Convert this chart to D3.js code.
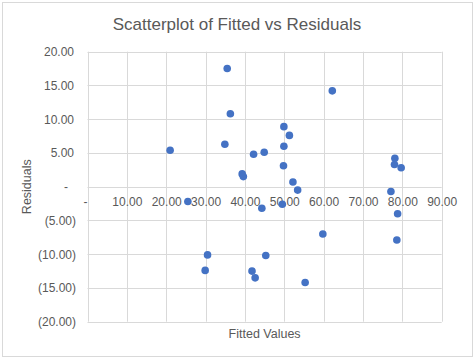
<!DOCTYPE html>
<html><head><meta charset="utf-8">
<script src="https://cdn.jsdelivr.net/npm/d3@7"></script>
<style>body{margin:0;background:#fff}svg{display:block}text{font-family:"Liberation Sans",Arial,sans-serif;fill:#595959}</style>
</head><body>
<script>
const fitted = [35.5,62.2,36.3,21.0,34.9,25.5,49.9,51.3,49.9,42.2,44.9,49.8,39.3,39.6,52.2,53.4,44.3,49.5,78.1,78.0,79.7,77.1,78.8,59.8,78.6,45.3,41.8,42.6,55.3,30.5,29.9];
const residuals = [17.5,14.2,10.8,5.4,6.3,-2.2,8.9,7.6,6.0,4.8,5.1,3.1,1.9,1.5,0.7,-0.5,-3.2,-2.6,4.2,3.3,2.8,-0.7,-4.0,-7.0,-7.9,-10.2,-12.5,-13.5,-14.2,-10.1,-12.4];
const xTicks = [0,10,20,30,40,50,60,70,80,90];
const yTicks = [-20,-15,-10,-5,0,5,10,15,20];
const title = "Scatterplot of Fitted vs Residuals";
const xTitle = "Fitted Values";
const yTitle = "Residuals";

const W = 474, H = 359;
const L = 87.5, R = 441.7, T = 51.7, B = 321.7;
const svg = d3.select("body").append("svg").attr("width", W).attr("height", H);
svg.append("rect").attr("x",2.5).attr("y",2.5).attr("width",470).attr("height",354)
  .attr("fill","#fff").attr("stroke","#d9d9d9");

const x = d3.scaleLinear().domain([0,90]).range([L,R]);
const y = d3.scaleLinear().domain([-20,20]).range([B,T]);
const fmt = v => v === 0 ? "-" : (v < 0 ? "(" + d3.format(".2f")(-v) + ")" : d3.format(".2f")(v));

// gridlines
const grid = svg.append("g").attr("stroke","#d9d9d9").attr("stroke-width",1);
grid.selectAll(".v").data(xTicks).join("line")
  .attr("x1",d=>Math.round(x(d))+0.5).attr("x2",d=>Math.round(x(d))+0.5)
  .attr("y1",T).attr("y2",B);
grid.selectAll(".h").data(yTicks).join("line")
  .attr("y1",d=>Math.round(y(d))+0.5).attr("y2",d=>Math.round(y(d))+0.5)
  .attr("x1",L).attr("x2",R);

// y axis labels
const yAx = svg.append("g").attr("transform",`translate(${L},0)`)
  .call(d3.axisLeft(y).tickValues(yTicks).tickFormat(fmt).tickSize(0).tickPadding(0));
yAx.select(".domain").remove();
yAx.selectAll("text").attr("font-size",12).attr("fill","#595959")
  .attr("font-family",'"Liberation Sans",Arial,sans-serif')
  .attr("x", d => d < 0 ? -11.5 : (d > 0 ? -13.5 : -21.5))
  .attr("text-anchor", d => d === 0 ? "middle" : "end");

// x axis labels (placed along zero line)
const xAx = svg.append("g").attr("transform",`translate(0,${y(0)})`)
  .call(d3.axisBottom(x).tickValues(xTicks).tickFormat(fmt).tickSize(0).tickPadding(0));
xAx.select(".domain").remove();
xAx.selectAll("text").attr("font-size",12).attr("fill","#595959")
  .attr("font-family",'"Liberation Sans",Arial,sans-serif')
  .attr("dy","0.32em").attr("y",15.5)
  .attr("dx", d => d === 0 ? -2.5 : 0);

// points
svg.append("g").selectAll("circle").data(fitted).join("circle")
  .attr("cx",(d)=>x(d)).attr("cy",(d,i)=>y(residuals[i])).attr("r",3.8)
  .attr("fill","#4472C4");

// titles
svg.append("text").attr("x",W/2).attr("y",30).attr("text-anchor","middle")
  .attr("font-size",17).text(title);
svg.append("text").attr("x",(L+R)/2).attr("y",338).attr("text-anchor","middle")
  .attr("font-size",12.5).text(xTitle);
svg.append("text").attr("transform",`translate(31,${(T+B)/2}) rotate(-90)`)
  .attr("text-anchor","middle").attr("font-size",12.5).text(yTitle);
</script>
</body></html>
